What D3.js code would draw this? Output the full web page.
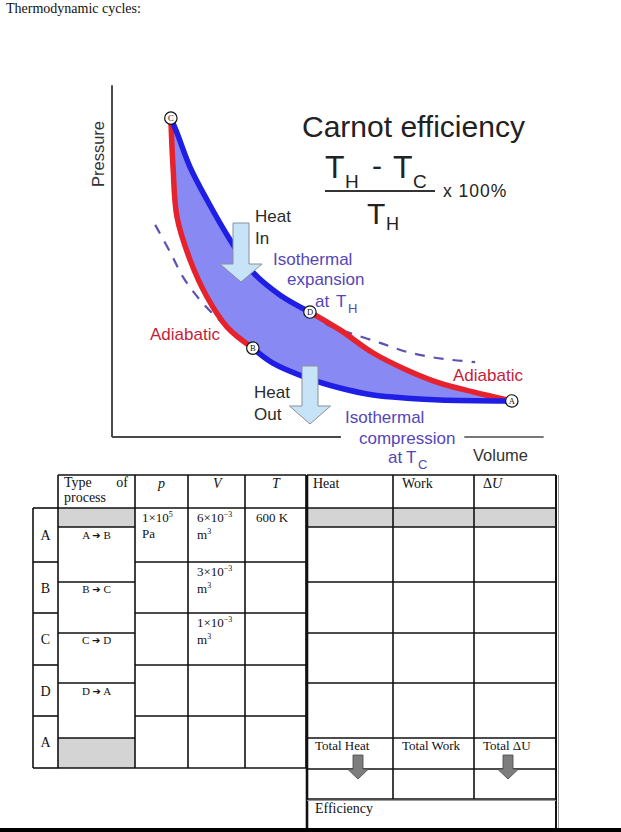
<!DOCTYPE html>
<html>
<head>
<meta charset="utf-8">
<script src="https://cdn.jsdelivr.net/npm/d3@7"></script>
<style>
  html, body { margin: 0; padding: 0; background: #fff; }
  svg { display: block; }
  .sans { font-family: "Liberation Sans", Arial, sans-serif; }
  .serif { font-family: "Liberation Serif", "Times New Roman", serif; }
</style>
</head>
<body>
<script>
// ---- P-V diagram readings (volume, pressure in arbitrary units, axes 0..10) ----
const isoHotV = [1.35, 1.49, 1.79, 2.18, 2.71, 3.23, 3.85, 4.54];   // C -> D
const isoHotP = [9.11, 8.69, 7.71, 6.77, 5.63, 4.71, 4.06, 3.57];
const adiaHotV = [4.54, 5.23, 5.99, 6.77, 7.52, 8.28, 9.17];        // D -> A
const adiaHotP = [3.57, 3.06, 2.40, 1.91, 1.54, 1.29, 1.03];
const adiaColdV = [1.35, 1.40, 1.49, 1.79, 2.18, 2.64, 3.23];       // C -> B
const adiaColdP = [9.11, 7.71, 6.29, 5.06, 4.00, 3.14, 2.54];
const isoColdV = [3.23, 3.69, 4.47, 5.23, 5.99, 6.77, 7.52, 9.17];  // B -> A
const isoColdP = [2.54, 2.11, 1.69, 1.40, 1.20, 1.11, 1.06, 1.03];
const dashLeftV = [0.99, 1.33, 1.63, 2.02, 2.41, 2.82, 3.23];
const dashLeftP = [6.06, 5.29, 4.57, 3.91, 3.40, 2.91, 2.54];
const dashRightV = [4.54, 4.95, 5.46, 6.15, 6.77, 7.29, 7.82, 8.33];
const dashRightP = [3.57, 3.20, 2.97, 2.69, 2.43, 2.29, 2.20, 2.14];
const stateNames = ["C", "D", "B", "A"];

// ---- table text ----
const rowLetters = ["A", "B", "C", "D", "A"];
const processes = [["A", "B"], ["B", "C"], ["C", "D"], ["D", "A"]];
const pMantissa = ["1\u00d710", "", "", "", ""];
const pExp = ["5", "", "", "", ""];
const pUnit = ["Pa", "", "", "", ""];
const vMantissa = ["6\u00d710", "3\u00d710", "1\u00d710", "", ""];
const vExp = ["\u22123", "\u22123", "\u22123", "", ""];
const tValues = ["600 K", "", "", "", ""];
const energyHeaders = ["Heat", "Work", "\u0394U"];
const totalHeaders = ["Total Heat", "Total Work", "Total \u0394U"];

const W = 621, H = 832;
const svg = d3.select("body").append("svg").attr("width", W).attr("height", H);

svg.append("text").attr("class", "serif")
  .attr("x", 6).attr("y", 13).attr("font-size", 14).attr("fill", "#111")
  .text("Thermodynamic cycles:");

// ================= diagram =================
const x = d3.scaleLinear().domain([0, 10]).range([112, 548]);
const y = d3.scaleLinear().domain([0, 10]).range([437, 87]);
const pts = (vs, ps) => vs.map((v, i) => [v, ps[i]]);
const line = d3.line().x(d => x(d[0])).y(d => y(d[1])).curve(d3.curveCatmullRom.alpha(0.5));

const isoHot = pts(isoHotV, isoHotP);
const adiaHot = pts(adiaHotV, adiaHotP);
const adiaCold = pts(adiaColdV, adiaColdP);
const isoCold = pts(isoColdV, isoColdP);

const g = svg.append("g");

// axes
g.append("line").attr("x1", x(0)).attr("x2", x(0)).attr("y1", y(0)).attr("y2", y(10.05))
  .attr("stroke", "#4a4a4a").attr("stroke-width", 2);
g.append("line").attr("x1", x(0)).attr("x2", x(5.25)).attr("y1", y(0)).attr("y2", y(0))
  .attr("stroke", "#4a4a4a").attr("stroke-width", 2);
g.append("line").attr("x1", x(8.08)).attr("x2", x(9.9)).attr("y1", y(0)).attr("y2", y(0))
  .attr("stroke", "#4a4a4a").attr("stroke-width", 1.5);

// fill between the curves
const fillPath = [line(isoHot), line(adiaHot), line(isoCold.slice().reverse()), line(adiaCold.slice().reverse())]
  .map((s, i) => i ? s.replace(/^M/, "L") : s).join("") + "Z";
g.append("path").attr("d", fillPath).attr("fill", "#8989f3");

// dashed isotherm extensions
[pts(dashLeftV, dashLeftP), pts(dashRightV, dashRightP)].forEach(d => {
  g.append("path").attr("d", line(d)).attr("fill", "none")
    .attr("stroke", "#5a52b4").attr("stroke-width", 2.2).attr("stroke-dasharray", "10,9");
});

// cycle strokes
const red = "#e6222c", blue = "#1e1ee4";
[[adiaCold, red], [adiaHot, red], [isoHot, blue], [isoCold, blue]].forEach(([d, c]) => {
  g.append("path").attr("d", line(d)).attr("fill", "none")
    .attr("stroke", c).attr("stroke-width", 5.5).attr("stroke-linecap", "round");
});

// state markers
const states = [isoHot[0], isoHot[isoHot.length - 1], isoCold[0], isoCold[isoCold.length - 1]];
const mk = g.selectAll(".state").data(states).join("g")
  .attr("transform", d => `translate(${x(d[0])},${y(d[1])})`);
mk.append("circle").attr("r", 6.2).attr("fill", "#fff").attr("stroke", "#111").attr("stroke-width", 1.2);
mk.append("text").attr("class", "serif").attr("text-anchor", "middle").attr("dy", 3)
  .attr("font-size", 8.5).attr("fill", "#111").text((d, i) => stateNames[i]);

// heat arrows
function arrowPath(cx, top, shaftHalf, headY, headHalf, tip) {
  return `M${cx - shaftHalf},${top}H${cx + shaftHalf}V${headY}H${cx + headHalf}L${cx},${tip}L${cx - headHalf},${headY}H${cx - shaftHalf}Z`;
}
g.append("path").attr("d", arrowPath(241, 223, 8, 264, 21, 282))
  .attr("fill", "#c6e3f8").attr("stroke", "#8a8f96").attr("stroke-width", 1);
g.append("path").attr("d", arrowPath(310, 366, 8, 406, 20.5, 424))
  .attr("fill", "#c6e3f8").attr("stroke", "#8a8f96").attr("stroke-width", 1);

// labels
const dark = "#2a2a2a", purple = "#5646b8", crimson = "#c41e3a";
const labels = [
  ["Heat", 255, 222, dark], ["In", 255, 244, dark],
  ["Isothermal", 273, 265, purple], ["expansion", 287, 285, purple], ["at", 315, 307, purple],
  ["Adiabatic", 150, 340, crimson],
  ["Heat", 254, 398, dark], ["Out", 254, 420, dark],
  ["Adiabatic", 453, 381, crimson],
  ["Isothermal", 345, 423, purple], ["compression", 359, 444, purple], ["at", 388, 463, purple]
];
g.selectAll(".lbl").data(labels).join("text").attr("class", "sans")
  .attr("x", d => d[1]).attr("y", d => d[2])
  .attr("font-size", 17).attr("fill", d => d[3]).text(d => d[0]);
// T_H, T_C in labels
[["T", "H", 336, 307], ["T", "C", 406, 463]].forEach(([tt, s, lx, ly]) => {
  g.append("text").attr("class", "sans").attr("x", lx).attr("y", ly).attr("font-size", 17).attr("fill", purple).text(tt);
  g.append("text").attr("class", "sans").attr("x", lx + 12).attr("y", ly + 6).attr("font-size", 13).attr("fill", purple).text(s);
});

g.append("text").attr("class", "sans").attr("transform", "translate(104,154) rotate(-90)")
  .attr("text-anchor", "middle").attr("font-size", 16.5).attr("fill", "#333").text("Pressure");
g.append("text").attr("class", "sans").attr("x", 473).attr("y", 461)
  .attr("font-size", 16.5).attr("fill", "#333").text("Volume");

// Carnot formula
g.append("text").attr("class", "sans").attr("x", 302).attr("y", 137)
  .attr("font-size", 30).attr("fill", "#222").text("Carnot efficiency");
const formula = [
  ["T", 325, 178, 32], ["H", 345, 188, 19], ["-", 372, 176, 30], ["T", 393, 178, 32], ["C", 413, 188, 19],
  ["T", 367, 224, 30], ["H", 386, 230, 18]
];
g.selectAll(".fml").data(formula).join("text").attr("class", "sans")
  .attr("x", d => d[1]).attr("y", d => d[2]).attr("font-size", d => d[3]).attr("fill", "#222").text(d => d[0]);
g.append("line").attr("x1", 325).attr("x2", 435).attr("y1", 191).attr("y2", 191)
  .attr("stroke", "#333").attr("stroke-width", 1.8);
g.append("text").attr("class", "sans").attr("x", 443).attr("y", 197)
  .attr("font-size", 17.5).attr("letter-spacing", 1).attr("fill", "#222").text("x 100%");

// ================= table =================
const t = svg.append("g").attr("class", "serif").attr("fill", "#111");
const lineC = "#111", lw = 1.6;
const colX = [33, 58, 135, 188, 245, 306];
const rowY = [508, 562, 613, 665, 716, 768];
const typeY = [508, 527, 582, 633, 683, 738, 768];
const eColX = [307, 393, 474, 556];
const eRowY = [475, 508, 527, 582, 633, 683, 738, 769, 799, 828];
const gray = "#d4d4d4";

const hl = (x1, x2, yy, w = lw, c = lineC) => t.append("line").attr("x1", x1).attr("x2", x2).attr("y1", yy).attr("y2", yy).attr("stroke", c).attr("stroke-width", w);
const vl = (xx, y1, y2, w = lw, c = lineC) => t.append("line").attr("x1", xx).attr("x2", xx).attr("y1", y1).attr("y2", y2).attr("stroke", c).attr("stroke-width", w);

// gray cells
t.append("rect").attr("x", colX[1]).attr("y", typeY[0]).attr("width", colX[2] - colX[1]).attr("height", typeY[1] - typeY[0]).attr("fill", gray);
t.append("rect").attr("x", colX[1]).attr("y", typeY[5]).attr("width", colX[2] - colX[1]).attr("height", typeY[6] - typeY[5]).attr("fill", gray);
t.append("rect").attr("x", eColX[0]).attr("y", eRowY[1]).attr("width", eColX[3] - eColX[0]).attr("height", eRowY[2] - eRowY[1]).attr("fill", gray);

// left table grid
hl(colX[1], colX[5], 475);
colX.slice(1).forEach(xx => vl(xx, 475, 768));
vl(colX[0], 508, 768);
rowY.forEach(yy => { hl(colX[0], colX[1], yy); hl(colX[2], colX[5], yy); });
typeY.forEach(yy => hl(colX[1], colX[2], yy));

// right table grid
vl(eColX[0], 475, 828, 2.6);
vl(eColX[1], 475, 799); vl(eColX[2], 475, 799);
vl(eColX[3], 475, 828, 2);
vl(eColX[3] + 2.5, 475, 828, 1, "#999");
eRowY.slice(0, -1).forEach(yy => hl(eColX[0], eColX[3], yy));
hl(eColX[0], eColX[3], 800.5, 1, "#999");

// bottom rule
svg.append("rect").attr("x", 0).attr("y", 828).attr("width", W).attr("height", 4).attr("fill", "#000");

// headers
const fs = 14;
t.append("text").attr("x", 64).attr("y", 487).attr("font-size", fs).text("Type");
t.append("text").attr("x", 128).attr("y", 487).attr("text-anchor", "end").attr("font-size", fs).text("of");
t.append("text").attr("x", 64).attr("y", 502).attr("font-size", fs).text("process");
[["p", 158], ["V", 213], ["T", 272]].forEach(([s, xx]) =>
  t.append("text").attr("x", xx).attr("y", 488).attr("font-size", fs).attr("font-style", "italic").text(s));
energyHeaders.forEach((s, i) => {
  const tx = t.append("text").attr("x", eColX[i] + (i ? 9 : 6)).attr("y", 488).attr("font-size", fs);
  if (s.startsWith("\u0394")) {
    tx.append("tspan").text("\u0394");
    tx.append("tspan").attr("font-style", "italic").text(s.slice(1));
  } else tx.text(s);
});

// row letters and processes
rowLetters.forEach((s, i) => {
  t.append("text").attr("x", (colX[0] + colX[1]) / 2).attr("y", (rowY[i] + rowY[i + 1]) / 2 + 5)
    .attr("text-anchor", "middle").attr("font-size", fs).text(s);
});
processes.forEach(([a, b], i) => {
  const tx = t.append("text").attr("x", (colX[1] + colX[2]) / 2).attr("y", rowY[i] + (i === 3 ? 30 : 31))
    .attr("text-anchor", "middle").attr("font-size", 11);
  tx.append("tspan").text(a + " ");
  tx.append("tspan").attr("font-family", "'DejaVu Sans', sans-serif").attr("font-size", 10).text("\u2794");
  tx.append("tspan").text(" " + b);
});

// values
function sci(xx, yy, mant, exp) {
  const tx = t.append("text").attr("x", xx).attr("y", yy).attr("font-size", 13);
  tx.append("tspan").text(mant);
  tx.append("tspan").attr("dy", -5).attr("font-size", 8).text(exp);
}
pMantissa.forEach((m, i) => {
  if (!m) return;
  sci(colX[2] + 7, rowY[i] + 14, m, pExp[i]);
  t.append("text").attr("x", colX[2] + 7).attr("y", rowY[i] + 30).attr("font-size", 13).text(pUnit[i]);
});
vMantissa.forEach((m, i) => {
  if (!m) return;
  sci(colX[3] + 9, rowY[i] + 14, m, vExp[i]);
  sci(colX[3] + 9, rowY[i] + 31, "m", "3");
});
tValues.forEach((s, i) => {
  if (!s) return;
  t.append("text").attr("x", colX[4] + 11).attr("y", rowY[i] + 14).attr("font-size", 13).text(s);
});

// totals
totalHeaders.forEach((s, i) => {
  t.append("text").attr("x", eColX[i] + (i ? 9 : 8)).attr("y", 750).attr("font-size", 13).text(s);
});
[358, 508].forEach(cx => {
  t.append("path").attr("d", arrowPath(cx, 755, 5, 769, 10.5, 779))
    .attr("fill", "#7d7d7d").attr("stroke", "#444").attr("stroke-width", 0.8);
});
t.append("text").attr("x", 315).attr("y", 813).attr("font-size", 14).text("Efficiency");
</script>
</body>
</html>
